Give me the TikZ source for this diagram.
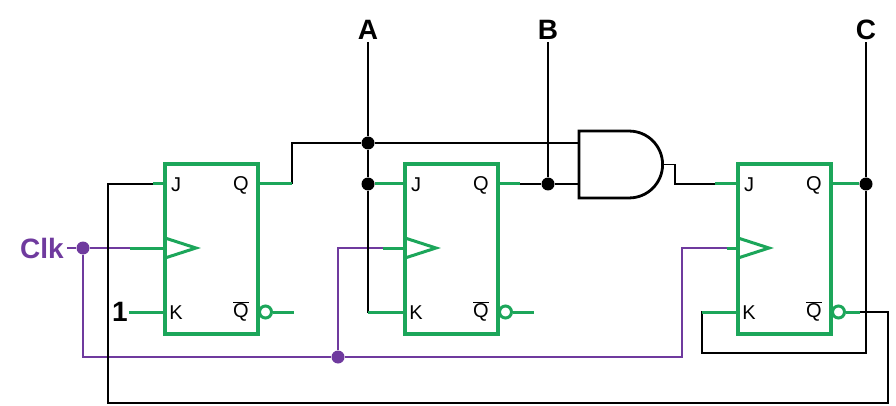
\documentclass[tikz,border=0pt]{standalone}
\usepackage{fontspec}
\setmainfont{Liberation Sans}
\usetikzlibrary{positioning,calc,shapes.gates.logic.US}
\definecolor{ffgreen}{HTML}{1CA65A}
\definecolor{clkpurple}{HTML}{6F3A9E}

\begin{document}
\begin{tikzpicture}[
        x=1pt,y=-1pt,
        ffbox/.style={rectangle,draw=ffgreen,line width=3.6pt,minimum width=93pt,minimum height=170pt,inner sep=0pt,outer sep=0pt},
        pinlabel/.style={font=\fontsize{20}{20}\selectfont,inner sep=0pt},
        biglabel/.style={font=\fontsize{28}{28}\selectfont\bfseries,inner sep=2pt},
        bubble/.style={circle,draw=ffgreen,fill=white,line width=3pt,minimum size=12pt,inner sep=0pt},
        dot/.style={circle,fill=black,minimum size=13pt,inner sep=0pt},
        clkdot/.style={circle,fill=clkpurple,minimum size=13pt,inner sep=0pt},
        andgate/.style={and gate US,draw,line width=2.8pt,logic gate inputs=nn,logic gate input sep=22.3pt,inner sep=0pt,outer sep=0pt},
        wire/.style={line width=1.5pt,black},
        stub/.style={line width=2.5pt,black},
        pinwire/.style={line width=3pt,ffgreen},
        clkwire/.style={line width=1.5pt,clkpurple}
    ]
        \useasboundingbox (0,0) rectangle (896,406);

        \node[ffbox] (ff1) at (211.5,249) {};
        \node[ffbox,right=147pt of ff1] (ff2) {};
        \node[ffbox,right=240pt of ff2] (ff3) {};

        % pins of the three flip-flops
        \foreach \n in {1,2,3} {
            \coordinate (j\n) at ($(ff\n.west)+(0,-65)$);
            \coordinate (ck\n) at ($(ff\n.west)+(0,-1)$);
            \coordinate (k\n) at ($(ff\n.west)+(0,63)$);
            \coordinate (q\n) at ($(ff\n.east)+(0,-65)$);
            \node[pinlabel] (lj\n) at ($(ff\n.west)+(11,-64)$) {J};
            \node[pinlabel] (lk\n) at ($(ff\n.west)+(11,64)$) {K};
            \node[pinlabel] (lq\n) at ($(ff\n.east)+(-17,-64)$) {Q};
            \node[pinlabel] (lnq\n) at ($(ff\n.east)+(-17,62)$) {$\overline{\mbox{Q}}$};
            \node[bubble] (nq\n) at ($(ff\n.east)+(7.5,63)$) {};
            \draw[pinwire] ($(ck\n)+(0,-10)$) -- ($(ck\n)+(31,0)$) -- ($(ck\n)+(0,10)$);
        }

        \node[biglabel] (lblA) at (368,30) {A};
        \node[biglabel] (lblB) at (548,30) {B};
        \node[biglabel] (lblC) at (866,30) {C};
        \node[biglabel,inner sep=3pt] (clk) at (42,248) {\textcolor{clkpurple}{Clk}};
        \node[biglabel,inner sep=1pt] (one) at (120,312) {1};

        \node[andgate] (gate) at (618,164.5) {};

        \node[dot] (nA1) at (368,143) {};
        \node[dot] (nA2) at (368,184) {};
        \node[dot] (nB) at (548,184) {};
        \node[dot] (nC) at (866,184) {};
        \node[clkdot] (nclk) at (83,248) {};
        \node[clkdot] (nclk2) at (338,357) {};

        \coordinate (q1r) at (292,184);
        \coordinate (fbE) at (888,403);
        \coordinate (fbW) at (108,403);
        \coordinate (sj1) at (153,184);
        \coordinate (sq2) at (520,184);
        \coordinate (sj3) at (715,184);
        \coordinate (bendK) at (702,353);
        \coordinate (bendY) at (675,184);
        \coordinate (bot1) at (83,357);
        \coordinate (bot3) at (682,357);
        \coordinate (sq3) at (860,312);

        % clock lines
        \draw[clkwire] (clk.east |- ck1) -- (nclk);
        \draw[clkwire] (nclk) -- (bot1) -- (nclk2);
        \draw[clkwire] (nclk2) -- (bot3) |- (ck3);
        \draw[clkwire] (nclk2) |- (ck2);
        \draw[clkwire] (nclk) -- (ck1);
        \draw[pinwire] (ck1) -- ++(-35,0);
        \draw[pinwire] (ck2) -- ++(-22,0);
        \draw[pinwire] (ck3) -- ++(-11,0);

        % signal lines
        \draw[wire] (lblA.south) -- (nA1);
        \draw[wire] (nA1) -- (nA2);
        \draw[wire] (nA2) -- (nA2 |- k2) -- (k2);
        \draw[wire] (q1r) |- (nA1);
        \draw[wire] (nA1) -- (nA1 -| gate.input 1);
        \draw[wire] (lblB.south) -- (nB);
        \draw[wire] (sq2) -- (nB);
        \draw[wire] (nB) -- (nB -| gate.input 2);
        \draw[wire] (gate.output) -| (bendY) -- (sj3);
        \draw[wire] (lblC.south) -- (nC);
        \draw[wire] (nC) |- (bendK) |- (k3);
        \draw[wire] (sq3) -| (fbE) -- (fbW) |- (sj1);
        \draw[stub] (sj1) -- ++(-23,0);
        \draw[stub] (sq2) -- ++(13,0);
        \draw[stub] (sj3) -- ++(-12,0);

        \draw[pinwire] (q1) -- (q1r);
        \draw[pinwire] (j1) -- (sj1);
        \draw[pinwire] (one.east |- k1) -- (k1);
        \draw[pinwire] (nq1) -- ++(28,0);
        \draw[pinwire] (nA2) -- (j2);
        \draw[pinwire] (nA2 |- k2) -- (k2);
        \draw[pinwire] (q2) -- (sq2);
        \draw[pinwire] (nq2) -- ++(28,0);
        \draw[pinwire] (j3) -- (sj3);
        \draw[pinwire] (q3) -- (nC);
        \draw[pinwire] (k3) -- (bendK |- k3);
        \draw[pinwire] (nq3) -- (sq3);
    \end{tikzpicture}
\end{document}
